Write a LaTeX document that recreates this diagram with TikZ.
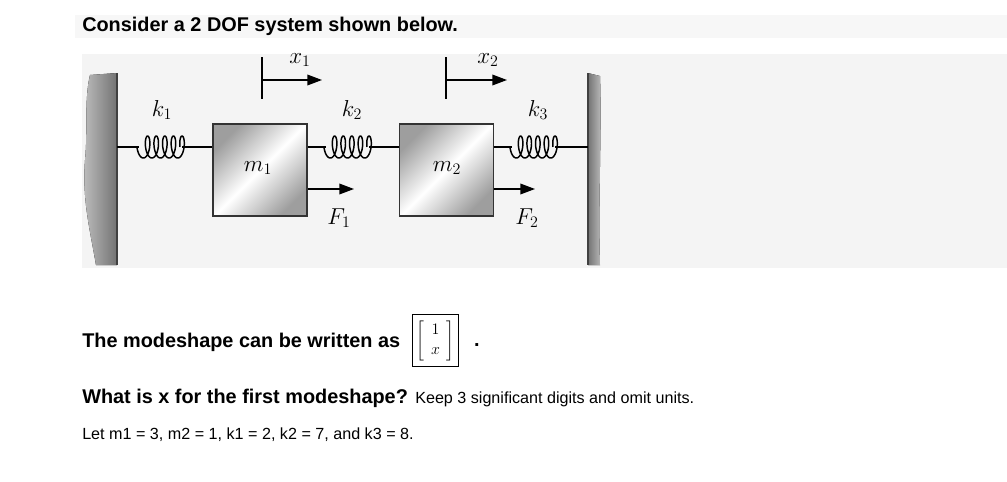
\documentclass[tikz,border=0pt]{standalone}
\usepackage{fontspec}
\setmainfont{Liberation Sans}
\newfontfamily\serifm{Latin Modern Roman}
\usetikzlibrary{arrows.meta}
\definecolor{bg}{HTML}{F4F4F4}
\tikzset{
  wall/.style={line width=1.6pt,draw=black!75},
  rod/.style={line width=1.1pt},
  mass/.style={draw=black!80,line width=0.8pt,shading=axis,top color=black!38,bottom color=black!38,middle color=white,shading angle=45},
  lab/.style={font=\serifm\itshape\fontsize{18}{18}\selectfont},
  arr/.style={-{Triangle[length=11pt,width=8pt]},line width=1pt},
  txt/.style={anchor=west,inner sep=0pt},
  big/.style={font=\bfseries\fontsize{14.9}{17}\selectfont},
  small/.style={font=\fontsize{12.1}{14}\selectfont},
}
\newcommand\coilpath{plot[domain=0.5*pi:10.5*pi,samples=300,variable=\t,smooth] ({1.37*\t - 4.2*sin(\t r)}, {-11*cos(\t r)})}
\begin{document}
\begin{tikzpicture}[x=0.75pt,y=-0.75pt]
\useasboundingbox (0,0) rectangle (1007,482);
\fill[white] (0,0) rectangle (1007,482);
\fill[black!3] (75,15) rectangle (1007,38);
\node[txt,big] (title) at (82,26) {Consider a 2 DOF system shown below.};
\fill[bg] (82,54) rectangle (1007,268);
% walls
\fill[left color=black!25,right color=black!55] (90,75) .. controls (84,100) and (88,130) .. (85,160) .. controls (82,200) and (90,230) .. (96,265) -- (117,265) -- (117,73) -- cycle;
\fill[left color=black!55,right color=black!25] (588,73) -- (600,76) .. controls (602,130) and (598,200) .. (600,265) -- (588,265) -- cycle;
\coordinate (wl) at (117,147);
\coordinate (wr) at (588,147);
\draw[wall] (117,73) -- (117,265);
\draw[wall] (588,73) -- (588,265);
% masses
\node[mass,minimum width=70.5pt,minimum height=69pt,inner sep=0pt] (m1) at (260,170) {};
\node[mass,minimum width=70pt,minimum height=69pt,inner sep=0pt] (m2) at (446.5,170) {};
\node[lab] at (258,168) {$m_1$};
\node[lab] at (447,168) {$m_2$};
% springs
\coordinate (s1a) at (139,147); \coordinate (s1b) at (182,147);
\coordinate (s2a) at (326,147); \coordinate (s2b) at (369,147);
\coordinate (s3a) at (512,147); \coordinate (s3b) at (555,147);
\draw[rod] (wl) -- (s1a); \draw[rod,shift={(s1a)}] \coilpath; \draw[rod] (s1b) -- (m1.west|-s1b);
\draw[rod] (m1.east|-s2a) -- (s2a); \draw[rod,shift={(s2a)}] \coilpath; \draw[rod] (s2b) -- (m2.west|-s2b);
\draw[rod] (m2.east|-s3a) -- (s3a); \draw[rod,shift={(s3a)}] \coilpath; \draw[rod] (s3b) -- (wr);
\node[lab] at (162,110) {$k_1$};
\node[lab] at (352,110) {$k_2$};
\node[lab] at (538,110) {$k_3$};
% forces
\coordinate (f1) at (354,189); \coordinate (f2) at (535,189);
\draw[arr] (m1.east|-f1) -- (f1);
\draw[arr] (m2.east|-f2) -- (f2);
\node[lab] at (339,218) {$F_1$};
\node[lab] at (527,218) {$F_2$};
% displacements
\coordinate (t1a) at (262,57); \coordinate (t1b) at (262,99); \coordinate (x1e) at (322,80);
\coordinate (t2a) at (446,57); \coordinate (t2b) at (446,99); \coordinate (x2e) at (507,80);
\draw[line width=0.8pt] (t1a) -- (t1b);
\draw[line width=0.8pt] (t2a) -- (t2b);
\draw[arr] (t1a|-x1e) -- (x1e);
\draw[arr] (t2a|-x2e) -- (x2e);
\node[lab] at (300,60) {$x_1$};
\node[lab] at (488,60) {$x_2$};
% text
\node[txt,big] (t2) at (82,342) {The modeshape can be written as};
\node[draw,line width=0.7pt,inner sep=0pt,minimum width=35pt,minimum height=39pt] (vec) at (435.5,340.5) {\serifm\fontsize{13}{15}\selectfont$\left[\begin{array}{c}1\\ x\end{array}\right]$};
\node[big] at (477,345) {.};
\node[txt,big] (q) at (82,398) {What is x for the first modeshape?};
\node[txt,small] at (415,399) {Keep 3 significant digits and omit units.};
\node[txt,small] at (82,435) {Let m1 = 3, m2 = 1, k1 = 2, k2 = 7, and k3 = 8.};
\end{tikzpicture}
\end{document}
